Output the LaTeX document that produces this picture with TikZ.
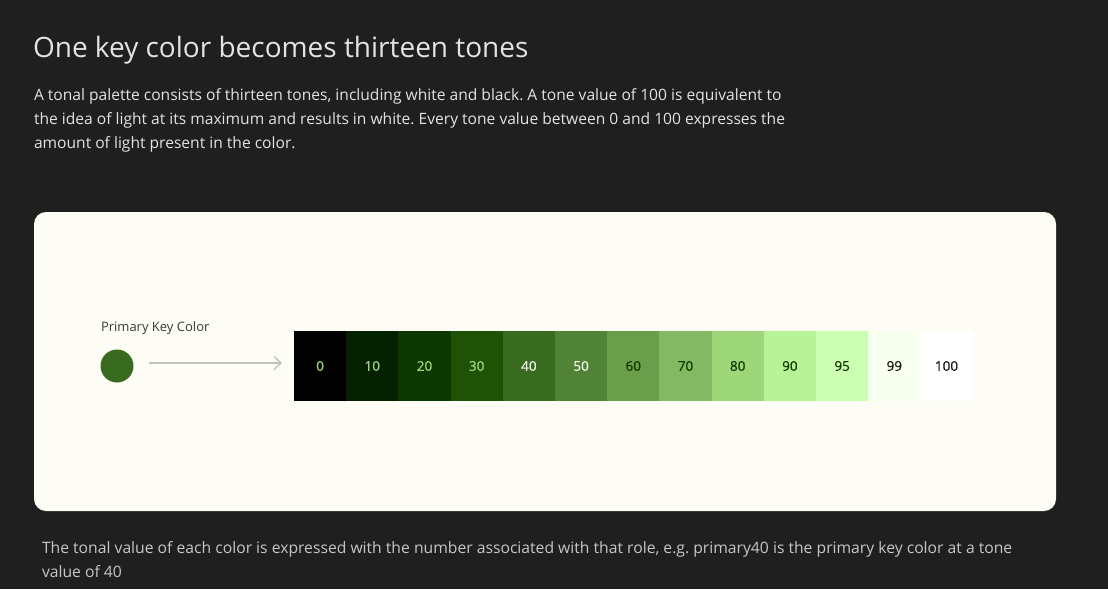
\documentclass[tikz,border=0pt]{standalone}
\usepackage{fontspec}
\setmainfont{Open Sans}
\newfontfamily\tonefont[FakeBold=0.5]{Open Sans}
\usetikzlibrary{positioning,arrows.meta}
\frenchspacing

\definecolor{pagebg}{HTML}{1F1F1F}
\definecolor{cardbg}{HTML}{FDFDF5}
\definecolor{headgrey}{HTML}{E3E3E3}
\definecolor{notegrey}{HTML}{C4C7C5}
\definecolor{labelgrey}{HTML}{3A3D35}
\definecolor{arrowgrey}{HTML}{C2C6BA}
\definecolor{keygreen}{HTML}{386A20}
% tonal palette
\definecolor{tone0}{HTML}{000000}
\definecolor{tone10}{HTML}{042100}
\definecolor{tone20}{HTML}{0C3900}
\definecolor{tone30}{HTML}{1F5107}
\definecolor{tone40}{HTML}{386A20}
\definecolor{tone50}{HTML}{508335}
\definecolor{tone60}{HTML}{6A9E4B}
\definecolor{tone70}{HTML}{83B962}
\definecolor{tone80}{HTML}{9ED67A}
\definecolor{tone90}{HTML}{B8F397}
\definecolor{tone95}{HTML}{CCFFB2}
\definecolor{tone99}{HTML}{F7FFEE}
\definecolor{tone100}{HTML}{FFFFFF}
\definecolor{onlight}{HTML}{9ED67A}
\definecolor{onmid}{HTML}{F2F7EC}
\definecolor{ondark}{HTML}{0C3900}
\definecolor{onpale}{HTML}{1A1C18}

\begin{document}
\begin{tikzpicture}[x=1pt,y=-1pt,
  every node/.style={inner sep=0pt,outer sep=0pt},
  swatch/.style={minimum width=52.2pt,minimum height=70pt,
    font=\tonefont\fontsize{13.5}{13.5}\selectfont}]
\fill[pagebg] (0,0) rectangle (1108,589);
\fill[cardbg,rounded corners=12pt] (34,212) rectangle (1056,511);

\node[anchor=base west,text=headgrey,font=\fontsize{28}{32}\selectfont] (title) at (33,57)
  {One key color becomes thirteen tones};
\node[anchor=north west,align=left,text=headgrey,font=\fontsize{15.6}{24}\selectfont] (intro) at (34,89)
  {A tonal palette consists of thirteen tones, including white and black. A tone value of 100 is equivalent to\\
   the idea of light at its maximum and results in white. Every tone value between 0 and 100 expresses the\\
   amount of light present in the color.};

\node[anchor=base west,text=labelgrey,font=\fontsize{13}{13}\selectfont] (keylabel) at (101,331)
  {Primary Key Color};
\node[circle,fill=keygreen,minimum size=33pt] (key) at (117,366) {};

\node[swatch,anchor=west,fill=tone0,text=onlight] (t0) at (294,366) {0};
\foreach \t/\fg [remember=\t as \prev (initially 0)] in {10/onlight,20/onlight,30/onlight,
    40/onmid,50/onmid,60/ondark,70/ondark,80/ondark,90/ondark,95/ondark,99/onpale,100/onpale}
  \node[swatch,right=0pt of t\prev,fill=tone\t,text=\fg] (t\t) {\t};

\draw[arrowgrey,line width=1.4pt,-{Straight Barb[length=7pt,width=13pt]},
  shorten <=15pt,shorten >=12pt] ([yshift=3pt]key.east) -- ([yshift=3pt]t0.west);

\node[anchor=north west,align=left,text=notegrey,font=\fontsize{15.7}{24}\selectfont] (note) at (42,541)
  {The tonal value of each color is expressed with the number associated with that role, e.g. primary40 is the primary key color at a tone\\
   value of 40};
\end{tikzpicture}
\end{document}
